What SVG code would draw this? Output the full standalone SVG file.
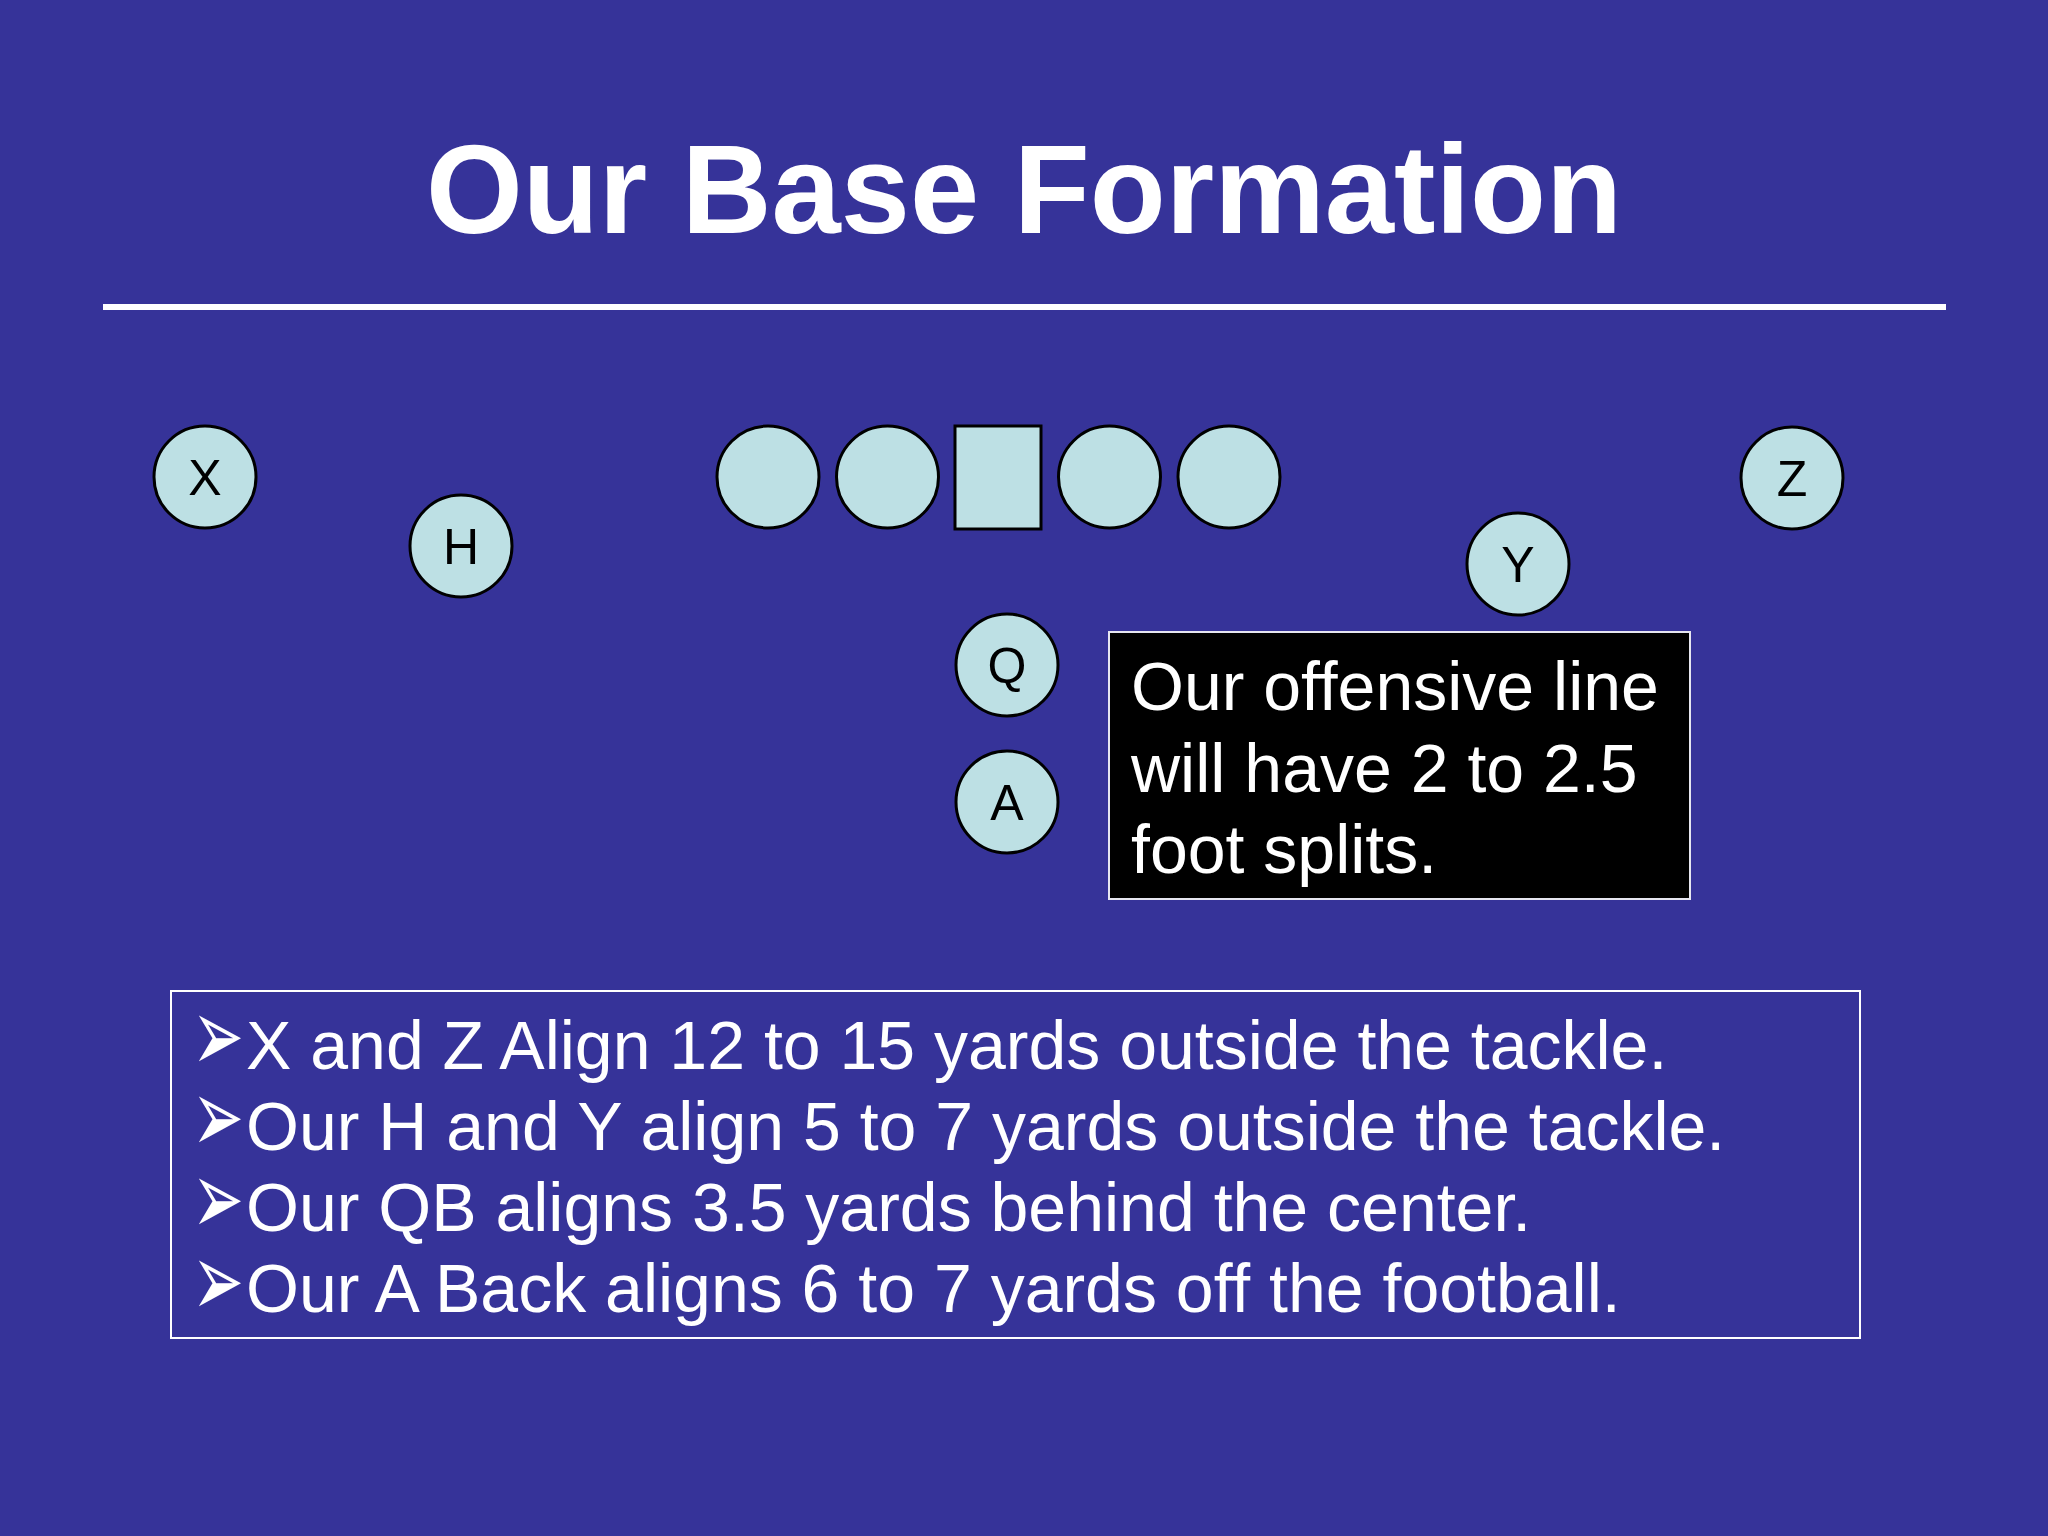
<svg xmlns="http://www.w3.org/2000/svg" width="2048" height="1536" viewBox="0 0 2048 1536">
<style>
.bg{fill:#363399}
.node{fill:#bde0e4;stroke:#000;stroke-width:3}
.lbl{font-family:"Liberation Sans",Arial,sans-serif;font-size:50px;fill:#000;text-anchor:middle}
.wt{font-family:"Liberation Sans",Arial,sans-serif;font-size:68px;fill:#fff}
.bul{font-family:"DejaVu Sans",sans-serif;font-size:62px;fill:#fff}
</style>
<rect class="bg" x="0" y="0" width="2048" height="1536"/>
<text x="1024" y="233" font-family="Liberation Sans,Arial,sans-serif" font-weight="bold" font-size="127" fill="#fff" text-anchor="middle" textLength="1196" lengthAdjust="spacingAndGlyphs">Our Base Formation</text>
<rect x="103" y="304" width="1843" height="6" fill="#fff"/>
<g id="connectors"/>
<g id="node-X"><circle class="node" cx="205" cy="477" r="51"/><text class="lbl" x="205" y="495">X</text></g>
<g id="node-H"><circle class="node" cx="461" cy="546" r="51"/><text class="lbl" x="461" y="564">H</text></g>
<g id="node-LT"><circle class="node" cx="768" cy="477" r="51"/></g>
<g id="node-LG"><circle class="node" cx="887.5" cy="477" r="51"/></g>
<g id="node-C"><rect class="node" x="955" y="426" width="86" height="103"/></g>
<g id="node-RG"><circle class="node" cx="1109.5" cy="477" r="51"/></g>
<g id="node-RT"><circle class="node" cx="1229" cy="477" r="51"/></g>
<g id="node-Z"><circle class="node" cx="1792" cy="478" r="51"/><text class="lbl" x="1792" y="496">Z</text></g>
<g id="node-Y"><circle class="node" cx="1518" cy="564" r="51"/><text class="lbl" x="1518" y="582">Y</text></g>
<g id="node-Q"><circle class="node" cx="1007" cy="665" r="51"/><text class="lbl" x="1007" y="683">Q</text></g>
<g id="node-A"><circle class="node" cx="1007" cy="802" r="51"/><text class="lbl" x="1007" y="820">A</text></g>
<g id="note">
<rect x="1109" y="632" width="581" height="267" fill="#000" stroke="#e6e6f0" stroke-width="2"/>
<text class="wt" x="1131" y="710">Our offensive line</text>
<text class="wt" x="1131" y="792">will have 2 to 2.5</text>
<text class="wt" x="1131" y="873">foot splits.</text>
</g>
<g id="bullets">
<rect x="171" y="991" width="1689" height="347" fill="none" stroke="#fff" stroke-width="2"/>
<text class="bul" transform="translate(192,1053) scale(1,1.68)" x="0" y="11">➢</text>
<text class="bul" transform="translate(192,1134) scale(1,1.68)" x="0" y="11">➢</text>
<text class="bul" transform="translate(192,1216) scale(1,1.68)" x="0" y="11">➢</text>
<text class="bul" transform="translate(192,1298) scale(1,1.68)" x="0" y="11">➢</text>
<text class="wt" x="246" y="1069">X and Z Align 12 to 15 yards outside the tackle.</text>
<text class="wt" x="246" y="1150">Our H and Y align 5 to 7 yards outside the tackle.</text>
<text class="wt" x="246" y="1231">Our QB aligns 3.5 yards behind the center.</text>
<text class="wt" x="246" y="1312">Our A Back aligns 6 to 7 yards off the football.</text>
</g>
</svg>
